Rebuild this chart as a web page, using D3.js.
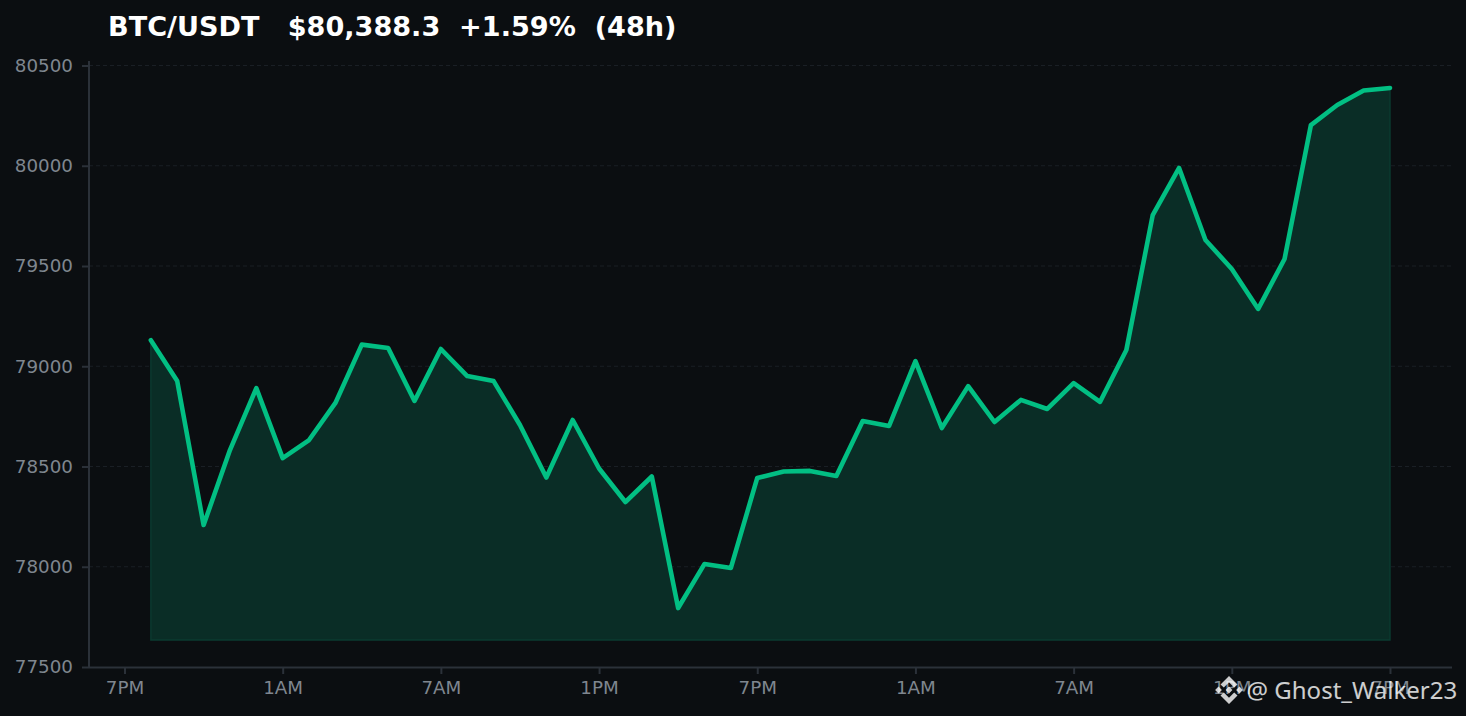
<!DOCTYPE html>
<html><head><meta charset="utf-8">
<script src="https://cdn.jsdelivr.net/npm/d3@7"></script>
<style>html,body{margin:0;padding:0;background:#0b0e11;overflow:hidden}svg{display:block}text{font-family:"DejaVu Sans",sans-serif}</style>
</head><body><svg id="c" width="1466" height="716"></svg>
<script>
const titleText = "BTC/USDT   $80,388.3  +1.59%  (48h)";
const watermark = "@ Ghost_Walker23";
const hours = d3.range(1, 49);
const prices = [79130,78926,78208,78582,78891,78542,78632,78817,79108,79091,78827,79086,78951,78926,78707,78445,78732,78490,78323,78450,77794,78014,77994,78443,78475,78478,78453,78727,78702,79026,78692,78901,78722,78832,78787,78916,78822,79081,79754,79989,79630,79485,79286,79535,80203,80303,80375,80388];
const yTickValues = [77500,78000,78500,79000,79500,80000,80500];
const xTickHours = [0,6,12,18,24,30,36,42,48];
const xTickLabels = ["7PM","1AM","7AM","1PM","7PM","1AM","7AM","1PM","7PM"];
const baseline = 77635;

const svg = d3.select("#c");
const x = d3.scaleLinear().domain([0,48]).range([124.5,1390]);
const y = d3.scaleLinear().domain([77500,80500]).range([667,65.5]);
const axisColor = "#2b3139", tickText = "#7f868f", green = "#02bf83";

svg.append("g").selectAll("line").data(yTickValues.slice(1)).join("line")
  .attr("x1",89).attr("x2",1452).attr("y1",d=>y(d)).attr("y2",d=>y(d))
  .attr("stroke","#1a1f25").attr("stroke-width",1).attr("stroke-dasharray","4 3");

const area = d3.area().x((d,i)=>x(hours[i])).y0(y(baseline)).y1(d=>y(d));
svg.append("path").datum(prices).attr("d",area)
  .attr("fill","#0a2d26").attr("stroke","#0b3b30").attr("stroke-width",1.4);

svg.append("path").datum(prices)
  .attr("d",d3.line().x((d,i)=>x(hours[i])).y(d=>y(d)))
  .attr("fill","none").attr("stroke",green).attr("stroke-width",4.6).attr("stroke-linejoin","round").attr("stroke-linecap","round");

const gx = svg.append("g").attr("transform","translate(0,667)")
  .call(d3.axisBottom(x).tickValues(xTickHours).tickFormat((d,i)=>xTickLabels[i]).tickSize(7).tickPadding(7));
const gy = svg.append("g").attr("transform","translate(89,0)")
  .call(d3.axisLeft(y).tickValues(yTickValues).tickFormat(d3.format("d")).tickSize(7).tickPadding(9));
gx.select(".domain").attr("d","M89,0.5H1452");
gy.select(".domain").attr("d","M0,61V667");
[gx,gy].forEach(g=>{
  g.select(".domain").attr("stroke",axisColor).attr("stroke-width",2);
  g.selectAll(".tick line").attr("stroke",axisColor).attr("stroke-width",2);
  g.selectAll("text").attr("fill",tickText).attr("font-size",18.3).attr("font-family","DejaVu Sans");
});

svg.append("text").attr("x",108).attr("y",36).attr("fill","#fff").attr("font-size",27.1).attr("font-weight",700)
  .attr("xml:space","preserve").style("white-space","pre").text(titleText);

const wm = svg.append("g").attr("opacity",.8);
wm.append("text").attr("x",1246.5).attr("y",699).attr("fill","#fff").attr("font-size",24)
  .style("font-family","'Noto Sans',sans-serif").text(watermark);
const logo = wm.append("g").attr("transform","translate(1229,690)").attr("fill","#fff");
logo.append("path").attr("d","M0,-14L8.5,-5.5L5.2,-2.5L0,-7.7L-5.2,-2.5L-8.5,-5.5Z M0,14L8.5,5.5L5.2,2.5L0,7.7L-5.2,2.5L-8.5,5.5Z");
logo.append("path").attr("d","M0,-3.4L3.4,0L0,3.4L-3.4,0Z M-10.5,-3.4L-7.1,0L-10.5,3.4L-13.9,0Z M10.5,-3.4L13.9,0L10.5,3.4L7.1,0Z");
</script></body></html>
